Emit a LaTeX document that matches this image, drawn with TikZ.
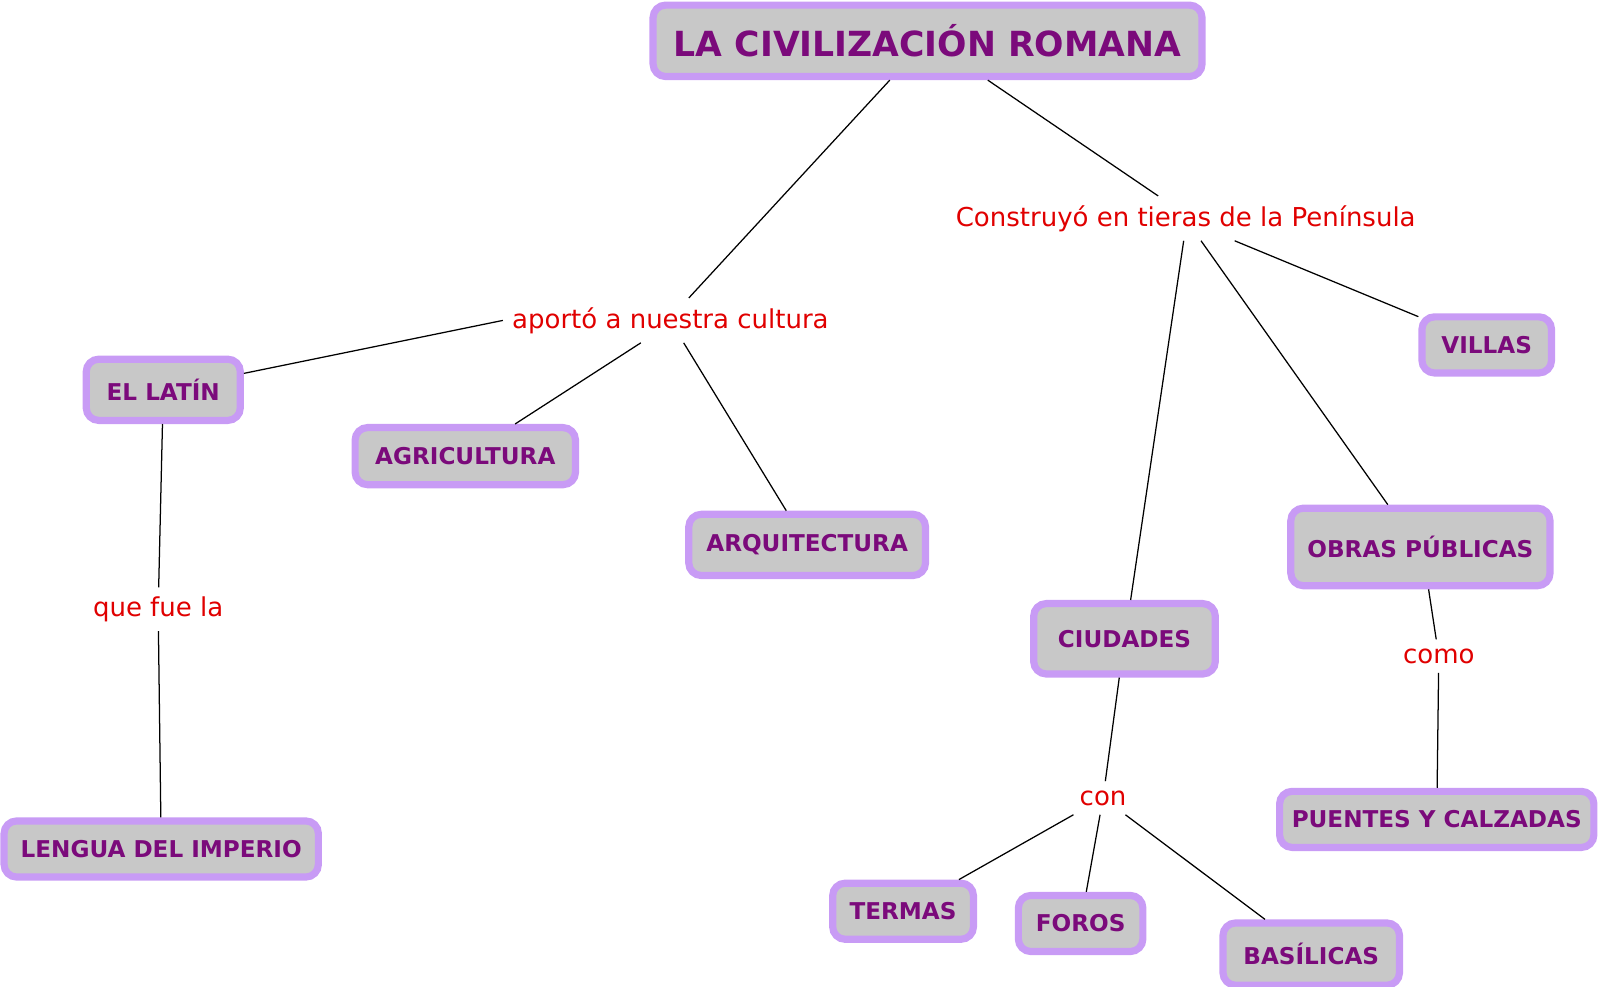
\documentclass[tikz,border=0pt]{standalone}
\usepackage{fontspec}
\setmainfont{DejaVu Sans}
\definecolor{boxfill}{HTML}{C8C8C8}
\definecolor{boxline}{HTML}{C89BF5}
\definecolor{txt}{HTML}{7B0A7B}
\definecolor{lab}{HTML}{E00000}
\begin{document}
\begin{tikzpicture}[x=0.02cm,y=-0.02cm,
  box/.style n args={2}{draw=boxline,fill=boxfill,line width=4pt,rounded corners=7pt,
    font=\bfseries\fontsize{12.9}{15}\selectfont,text=txt,inner sep=0pt,
    minimum width={#1*0.02cm},minimum height={#2*0.02cm}},
  lbl/.style={font=\fontsize{14.5}{17}\selectfont,text=lab,inner sep=5pt},
  conn/.style={draw=black,line width=0.7pt}]
\useasboundingbox (0,0) rectangle (1568,967);
\node[box={538}{70},font=\bfseries\fontsize{19.3}{22}\selectfont] (t) at (909,40) {LA CIVILIZACIÓN ROMANA};
\node[box={151}{60}] (lat) at (160,382) {EL LATÍN};
\node[box={216}{56}] (agr) at (456,447) {AGRICULTURA};
\node[box={232}{60}] (arq) at (791,534) {ARQUITECTURA};
\node[box={308}{55}] (len) at (158,832) {LENGUA DEL IMPERIO};
\node[box={178}{69}] (ciu) at (1102,626) {CIUDADES};
\node[box={254}{76}] (obr) at (1392,536) {OBRAS PÚBLICAS};
\node[box={127}{55}] (vil) at (1457,338) {VILLAS};
\node[box={308}{55}] (pue) at (1408,803) {PUENTES Y CALZADAS};
\node[box={138}{55}] (ter) at (885,893) {TERMAS};
\node[box={122}{55}] (for) at (1059,905) {FOROS};
\node[box={173}{61}] (bas) at (1285,935) {BASÍLICAS};
\node[lbl] (l1) at (657,314) {aportó a nuestra cultura};
\node[lbl] (l2) at (1162,214) {Construyó en tieras de la Península};
\node[lbl] (l3) at (155,597) {que fue la};
\node[lbl] (l4) at (1081,782) {con};
\node[lbl] (l5) at (1410,643) {como};
\draw[conn] (t.south -| 872,0) -- (l1.north -| 675,0);
\draw[conn] (t.south -| 968,0) -- (l2.north -| 1135,0);
\draw[conn] (l1.west) -- (lat);
\draw[conn] (l1.south -| 628,0) -- (agr);
\draw[conn] (l1.south -| 670,0) -- (arq);
\draw[conn] (lat) -- (l3);
\draw[conn] (l3) -- (len);
\draw[conn] (l2.south -| 1160,0) -- (ciu.north -| 1108,0);
\draw[conn] (l2.south -| 1177,0) -- (obr.north -| 1360,0);
\draw[conn] (l2.south -| 1210,0) -- (vil);
\draw[conn] (ciu) -- (l4);
\draw[conn] (l4) -- (ter);
\draw[conn] (l4) -- (for);
\draw[conn] (l4) -- (bas);
\draw[conn] (obr.south -| 1400,0) -- (l5);
\draw[conn] (l5) -- (pue);
\end{tikzpicture}
\end{document}
